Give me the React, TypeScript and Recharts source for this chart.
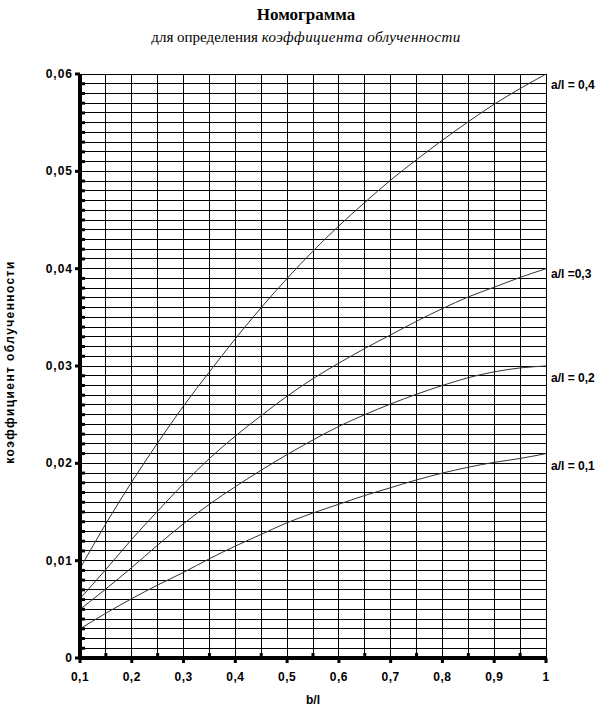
import React from 'react';
import { LineChart, Line, XAxis, YAxis, CartesianGrid } from 'recharts';

// отношение b/l
const bValues = [0.1, 0.15, 0.2, 0.25, 0.3, 0.35, 0.4, 0.45, 0.5, 0.55, 0.6, 0.65, 0.7, 0.75, 0.8, 0.85, 0.9, 0.95, 1.0];

// коэффициент облученности для разных a/l
const al01 = [0.003, 0.0046, 0.0061, 0.0075, 0.0088, 0.0102, 0.0115, 0.0127, 0.0139, 0.0149, 0.0158, 0.0167, 0.0175, 0.0183, 0.019, 0.0196, 0.0201, 0.0205, 0.021];
const al02 = [0.005, 0.0071, 0.0093, 0.0116, 0.0138, 0.0158, 0.0176, 0.0193, 0.0209, 0.0224, 0.0238, 0.025, 0.0261, 0.0271, 0.028, 0.0288, 0.0294, 0.0298, 0.03];
const al03 = [0.0061, 0.0091, 0.0122, 0.0151, 0.0179, 0.0205, 0.0228, 0.0249, 0.0269, 0.0287, 0.0303, 0.0318, 0.0332, 0.0346, 0.0359, 0.0371, 0.0381, 0.0391, 0.04];
const al04 = [0.0092, 0.0138, 0.0181, 0.0221, 0.0259, 0.0294, 0.0328, 0.036, 0.039, 0.0418, 0.0444, 0.0468, 0.0491, 0.0512, 0.0532, 0.0551, 0.0569, 0.0585, 0.06];

const seriesLabels = ['a/l = 0,1', 'a/l = 0,2', 'a/l =0,3', 'a/l = 0,4'];

// сетка: по x через 0,05, по y через 0,001
const xTicks = bValues;
const yTicks = Array.from({ length: 61 }, (_, i) => i / 1000);

const data = bValues.map((b, i) => ({
    b,
    s1: al01[i],
    s2: al02[i],
    s3: al03[i],
    s4: al04[i],
}));

const axisFont = '"Liberation Sans", Arial, sans-serif';
const titleFont = '"Liberation Serif", "Times New Roman", serif';

const XTick = (props: any) => {
    const { x, y, payload } = props;
    const k = Math.round(payload.value * 100);
    const major = k % 10 === 0;
    const label = k === 100 ? '1' : '0,' + k / 10;
    return (
        <g>
            {major ? (
                <line x1={x} x2={x} y1={y} y2={y + 5} stroke="#000" strokeWidth={3} />
            ) : (
                <line x1={x} x2={x} y1={y} y2={y - 5} stroke="#000" strokeWidth={3} />
            )}
            {major && (
                <text x={x} y={y + 23} textAnchor="middle" fontFamily={axisFont} fontWeight="bold" fontSize={12} letterSpacing={0.5} fill="#000">
                    {label}
                </text>
            )}
        </g>
    );
};

const YTick = (props: any) => {
    const { x, y, payload } = props;
    const k = Math.round(payload.value * 1000);
    const major = k % 10 === 0;
    const label = k === 0 ? '0' : '0,0' + k / 10;
    return (
        <g>
            {major ? (
                <line x1={x - 5} x2={x} y1={y} y2={y} stroke="#000" strokeWidth={3} />
            ) : (
                <line x1={x} x2={x + 5} y1={y} y2={y} stroke="#000" strokeWidth={3} />
            )}
            {major && (
                <text x={x - 7} y={y + 4} textAnchor="end" fontFamily={axisFont} fontWeight="bold" fontSize={12} letterSpacing={1} fill="#000">
                    {label}
                </text>
            )}
        </g>
    );
};

// подпись кривой у правого края
const endLabel = (text: string, dy: number) => (props: any) => {
    const { cx, cy, index } = props;
    if (index !== bValues.length - 1) return <g key={`d-${index}`} />;
    return (
        <text key={`d-${index}`} x={cx + 5} y={cy + dy} fontFamily={axisFont} fontWeight="bold" fontSize={12} fill="#000">
            {text}
        </text>
    );
};

export default function App() {
    return (
        <div style={{ position: 'absolute', left: 0, top: 0, width: 604, height: 709, background: '#fff' }}>
            <div style={{ position: 'absolute', left: 0, width: 612, top: 5, textAlign: 'center', fontFamily: titleFont, fontWeight: 'bold', fontSize: 17 }}>
                Номограмма
            </div>
            <div style={{ position: 'absolute', left: 0, width: 612, top: 29, textAlign: 'center', fontFamily: titleFont, fontSize: 15 }}>
                для определения <i style={{ letterSpacing: 0.4 }}>коэффициента облученности</i>
            </div>
            <div style={{ position: 'absolute', left: 10, top: 362, transform: 'translate(-50%, -50%) rotate(-90deg)', whiteSpace: 'nowrap', fontFamily: axisFont, fontWeight: 'bold', fontSize: 12, letterSpacing: 1.4 }}>
                коэффициент облученности
            </div>
            <div style={{ position: 'absolute', left: 313, top: 700, transform: 'translate(-50%, -50%)', fontFamily: axisFont, fontWeight: 'bold', fontSize: 12 }}>
                b/l
            </div>
            <LineChart width={604} height={709} data={data} margin={{ top: 74, right: 58, bottom: 0, left: 0 }}>
                <CartesianGrid stroke="#000" strokeWidth={1} shapeRendering="crispEdges" />
                <XAxis
                    type="number"
                    dataKey="b"
                    domain={[0.1, 1]}
                    ticks={xTicks}
                    interval={0}
                    height={51}
                    tickSize={0}
                    tickMargin={0}
                    tickLine={false}
                    axisLine={{ stroke: '#000', strokeWidth: 4 }}
                    tick={<XTick />}
                />
                <YAxis
                    type="number"
                    domain={[0, 0.06]}
                    ticks={yTicks}
                    interval={0}
                    width={80}
                    tickSize={0}
                    tickMargin={0}
                    tickLine={false}
                    axisLine={{ stroke: '#000', strokeWidth: 4 }}
                    tick={<YTick />}
                />
                <Line type="monotone" dataKey="s1" stroke="#333" strokeWidth={1} dot={endLabel(seriesLabels[0], 16)} activeDot={false} isAnimationActive={false} />
                <Line type="monotone" dataKey="s2" stroke="#333" strokeWidth={1} dot={endLabel(seriesLabels[1], 16)} activeDot={false} isAnimationActive={false} />
                <Line type="monotone" dataKey="s3" stroke="#333" strokeWidth={1} dot={endLabel(seriesLabels[2], 9)} activeDot={false} isAnimationActive={false} />
                <Line type="monotone" dataKey="s4" stroke="#333" strokeWidth={1} dot={endLabel(seriesLabels[3], 15)} activeDot={false} isAnimationActive={false} />
            </LineChart>
        </div>
    );
}
